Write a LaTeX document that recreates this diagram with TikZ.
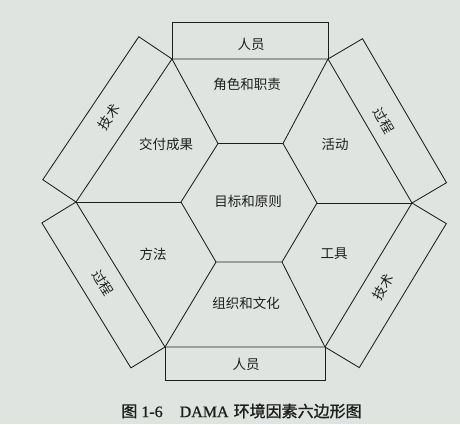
\documentclass[tikz,border=0pt]{standalone}
\usepackage{fontspec}
\newfontfamily\cjk{Noto Sans CJK SC}
\newfontfamily\cjkcap[FakeBold=1.2]{Noto Sans CJK SC}
\newfontfamily\lat[FakeBold=0.8]{Liberation Serif}
\definecolor{paper}{RGB}{224,228,224}
\definecolor{ink}{RGB}{30,30,30}
\begin{document}
\begin{tikzpicture}[x=1pt,y=-1pt,
  edge/.style={draw=ink,line width=0.85pt,line join=miter},
  lbl/.style={font=\cjk\fontsize{13.5}{16}\selectfont,text=ink,inner sep=0pt},
  captionstyle/.style={text=ink,inner sep=0pt}]
\fill[paper] (0,0) rectangle (460,424);
\useasboundingbox (0,0) rectangle (460,424);
% outer hexagon
\coordinate (L)  at (76,202);
\coordinate (TL) at (172,59);
\coordinate (TR) at (328,59);
\coordinate (R)  at (412,203);
\coordinate (BR) at (325,347);
\coordinate (BL) at (165,347);
% inner hexagon
\coordinate (iL)  at (181,202);
\coordinate (iTL) at (218,143.5);
\coordinate (iTR) at (283,143.5);
\coordinate (iR)  at (317,203);
\coordinate (iBR) at (282,262);
\coordinate (iBL) at (216,262);
% outer rectangle corners
\coordinate (Tl) at (172,22);
\coordinate (Tr) at (328,22);
\coordinate (Bl) at (165,380);
\coordinate (Br) at (325,380);
\coordinate (ULa) at (42.8,179.7);
\coordinate (ULb) at (138.8,36.7);
\coordinate (URa) at (362.5,38.7);
\coordinate (URb) at (446.5,182.7);
\coordinate (LLa) at (41.9,222.9);
\coordinate (LLb) at (130.9,367.9);
\coordinate (LRa) at (359.3,367.6);
\coordinate (LRb) at (446.3,223.6);
% shapes
\draw[edge] (L) -- (TL) -- (TR) -- (R) -- (BR) -- (BL) -- cycle;
\draw[edge] (iL) -- (iTL) -- (iTR) -- (iR) -- (iBR) -- (iBL) -- cycle;
\draw[edge] (iTL) -- (TL);
\draw[edge] (iTR) -- (TR);
\draw[edge] (iR) -- (R);
\draw[edge] (iBR) -- (BR);
\draw[edge] (iBL) -- (BL);
\draw[edge] (iL) -- (L);
\draw[edge] (TL) -- (Tl) -- (Tr) -- (TR);
\draw[edge] (BL) -- (Bl) -- (Br) -- (BR);
\draw[edge] (L) -- (ULa) -- (ULb) -- (TL);
\draw[edge] (TR) -- (URa) -- (URb) -- (R);
\draw[edge] (L) -- (LLa) -- (LLb) -- (BL);
\draw[edge] (BR) -- (LRa) -- (LRb) -- (R);
% labels
\node[lbl] (center) at (248,201) {目标和原则};
\node[lbl] (roles)  at (247,84) {角色和职责};
\node[lbl] (deliv)  at (166,144) {交付成果};
\node[lbl] (act)    at (335,144) {活动};
\node[lbl] (meth)   at (153,254) {方法};
\node[lbl] (tools)  at (334,254) {工具};
\node[lbl] (org)    at (246,303) {组织和文化};
\node[lbl] (ppltop) at (251,44) {人员};
\node[lbl] (pplbot) at (246,364) {人员};
\node[lbl,rotate=56]  (techul) at (109,117) {技术};
\node[lbl,rotate=-60] (procur) at (384,121) {过程};
\node[lbl,rotate=-58] (procll) at (103,283) {过程};
\node[lbl,rotate=59]  (techlr) at (383,287) {技术};
\node[captionstyle] (caption) at (241.5,411) {\fontsize{16}{18}\selectfont{\cjkcap 图}\hspace{4pt}{\lat 1-6}\hspace{17pt}{\lat DAMA}\hspace{5pt}{\cjkcap 环境因素六边形图}};
\end{tikzpicture}
\end{document}
